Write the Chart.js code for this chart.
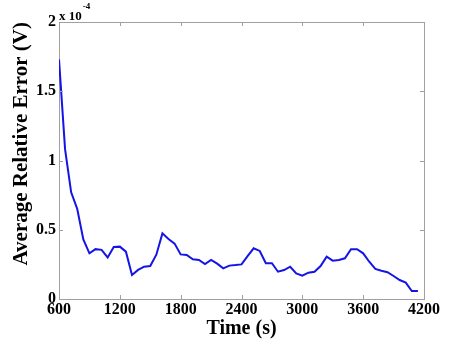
<!DOCTYPE html>
<html>
<head>
<meta charset="utf-8">
<script src="https://cdn.jsdelivr.net/npm/chart.js@4/dist/chart.umd.min.js"></script>
<style>
  html, body { margin: 0; padding: 0; background: #fff; }
  canvas { display: block; }
</style>
</head>
<body>
<canvas id="errChart" width="474" height="349"></canvas>
<script>
// sample times (s) and average relative error (units of 1e-4 V)
var times = [600, 660, 720, 780, 840, 900, 960, 1020, 1080, 1140,
             1200, 1260, 1320, 1380, 1440, 1500, 1560, 1620, 1680, 1740,
             1800, 1860, 1920, 1980, 2040, 2100, 2160, 2220, 2280, 2340,
             2400, 2460, 2520, 2580, 2640, 2700, 2760, 2820, 2880, 2940,
             3000, 3060, 3120, 3180, 3240, 3300, 3360, 3420, 3480, 3540,
             3600, 3660, 3720, 3780, 3840, 3900, 3960, 4020, 4080, 4140];
var errors = [1.73, 1.08, 0.77, 0.65, 0.43, 0.33, 0.36, 0.355, 0.30, 0.375,
              0.378, 0.342, 0.173, 0.21, 0.233, 0.238, 0.32, 0.474, 0.433, 0.40,
              0.322, 0.318, 0.287, 0.282, 0.253, 0.282, 0.255, 0.221, 0.241, 0.245,
              0.25, 0.31, 0.366, 0.347, 0.258, 0.258, 0.197, 0.209, 0.233, 0.185,
              0.168, 0.19, 0.197, 0.238, 0.306, 0.277, 0.282, 0.294, 0.359, 0.359,
              0.33, 0.269, 0.217, 0.204, 0.193, 0.166, 0.137, 0.118, 0.058, 0.058];
var xTicks = [600, 1200, 1800, 2400, 3000, 3600, 4200];
var yTicks = [0, 0.5, 1, 1.5, 2];

var serif = "'Liberation Serif', 'Times New Roman', serif";
var axisGrey = '#a0a0a0';

// box around the axes with inward tick marks, plus the exponent label
var boxPlugin = {
  id: 'box',
  afterDraw: function(chart) {
    var c = chart.ctx, a = chart.chartArea;
    var xs = chart.scales.x, ys = chart.scales.y;
    var len = 4;
    c.save();
    c.strokeStyle = axisGrey;
    c.lineWidth = 1;
    c.beginPath();
    c.moveTo(a.left, a.top + 0.5);
    c.lineTo(a.right + 0.5, a.top + 0.5);
    c.lineTo(a.right + 0.5, a.bottom);
    xTicks.forEach(function(v) {
      var px = Math.round(xs.getPixelForValue(v)) + 0.5;
      c.moveTo(px, a.bottom);
      c.lineTo(px, a.bottom - len);
      c.moveTo(px, a.top);
      c.lineTo(px, a.top + len);
    });
    yTicks.forEach(function(v) {
      var py = Math.round(ys.getPixelForValue(v)) + 0.5;
      c.moveTo(a.left, py);
      c.lineTo(a.left + len, py);
      c.moveTo(a.right, py);
      c.lineTo(a.right - len, py);
    });
    c.stroke();

    c.fillStyle = '#000';
    c.textBaseline = 'alphabetic';
    c.textAlign = 'left';
    c.font = 'bold 13px ' + serif;
    c.fillText('x 10', a.left, a.top - 2);
    var w = c.measureText('x 10').width;
    c.font = 'bold 9px ' + serif;
    c.fillText('-4', a.left + w + 1, a.top - 13);
    c.restore();
  }
};

function plainLabel(value) {
  return String(value);
}

new Chart(document.getElementById('errChart'), {
  type: 'line',
  data: {
    labels: times,
    datasets: [{
      label: 'Average Relative Error',
      data: errors,
      borderColor: '#1414e6',
      borderWidth: 2,
      pointRadius: 0,
      tension: 0,
      fill: false
    }]
  },
  options: {
    responsive: false,
    animation: false,
    devicePixelRatio: 1,
    layout: { padding: { left: 0, top: 22, right: 50, bottom: 0 } },
    plugins: {
      legend: { display: false },
      tooltip: { enabled: false }
    },
    scales: {
      x: {
        type: 'linear',
        min: 600,
        max: 4200,
        afterBuildTicks: function(scale) {
          scale.ticks = xTicks.map(function(v) { return { value: v }; });
        },
        afterFit: function(scale) { scale.height = 50; },
        grid: { display: false, drawTicks: false },
        border: { display: true, color: axisGrey, width: 1 },
        ticks: {
          color: '#000',
          padding: 1,
          maxRotation: 0,
          autoSkip: false,
          callback: plainLabel,
          font: { family: serif, size: 16, weight: 'bold' }
        },
        title: {
          display: true,
          text: 'Time (s)',
          color: '#000',
          padding: { top: 0, bottom: 8 },
          font: { family: serif, size: 20, weight: 'bold' }
        }
      },
      y: {
        min: 0,
        max: 2,
        afterBuildTicks: function(scale) {
          scale.ticks = yTicks.map(function(v) { return { value: v }; });
        },
        afterFit: function(scale) { scale.width = 59; },
        grid: { display: false, drawTicks: false },
        border: { display: true, color: axisGrey, width: 1 },
        ticks: {
          color: '#000',
          padding: 3,
          callback: plainLabel,
          font: { family: serif, size: 16, weight: 'bold' }
        },
        title: {
          display: true,
          text: 'Average Relative Error (V)',
          color: '#000',
          align: 'end',
          padding: { top: 9, bottom: 0 },
          font: { family: serif, size: 21, weight: 'bold' }
        }
      }
    }
  },
  plugins: [boxPlugin]
});
</script>
</body>
</html>
